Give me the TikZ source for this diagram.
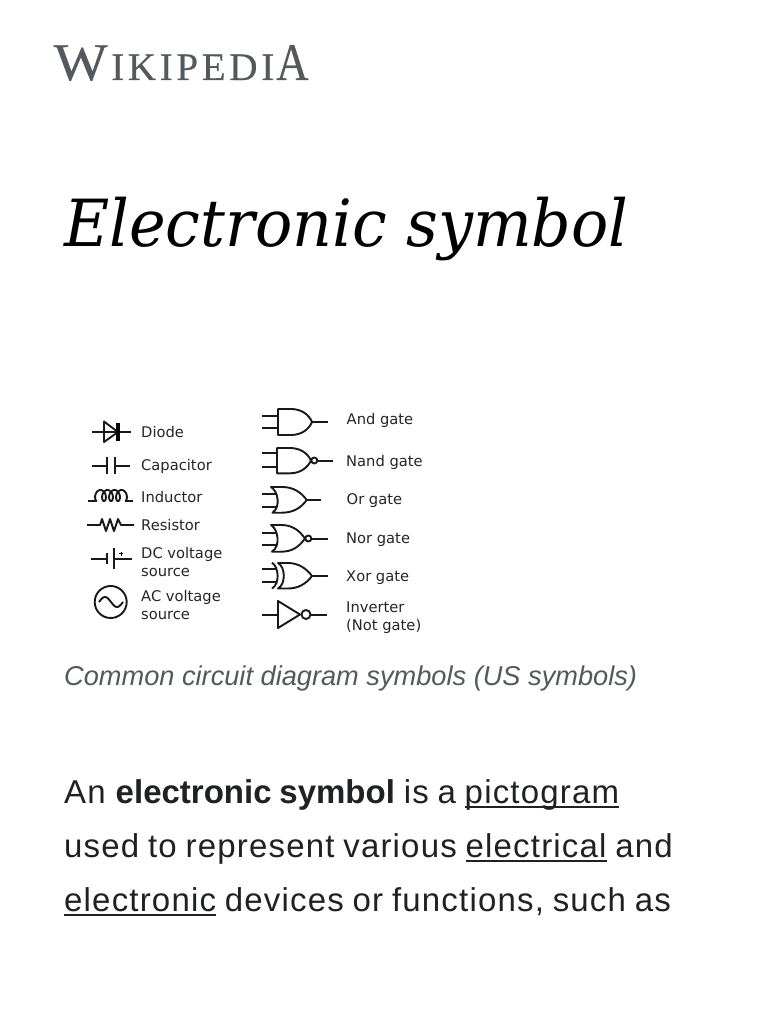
\documentclass[tikz,border=0pt]{standalone}
\usepackage{fontspec}
\setmainfont{Liberation Sans}
\newfontfamily\bodyfont[LetterSpace=3.6,WordSpace=0.85,BoldFeatures={LetterSpace=0,WordSpace=0.85}]{Liberation Sans}
\newfontfamily\labelfont{DejaVu Sans}
\newfontfamily\titlefont{DejaVu Serif}
\newfontfamily\logofont[FakeBold=0.4]{Liberation Serif}
\newfontfamily\logospaced[LetterSpace=9.5,FakeBold=0.4]{Liberation Serif}
\definecolor{logogray}{HTML}{54595D}
\definecolor{bodyink}{HTML}{202122}
\newcommand\linkword[1]{\setbox0\hbox{#1}\rlap{\vrule width\wd0 height -3.2pt depth 4.8pt}\box0 }
\tikzset{
    symline/.style={line width=1.9pt, line join=round, black!90},
    symlabel/.style={anchor=base west, inner sep=0pt, font=\labelfont\fontsize{14.7}{18}\selectfont, align=left, black!85},
    bodyline/.style={anchor=base west, inner sep=0pt, text=bodyink, font=\bodyfont\fontsize{33}{39}\selectfont}
}
\begin{document}
\begin{tikzpicture}[x=1pt,y=-1pt]
    \useasboundingbox (0,0) rectangle (768,1024);
    \fill[white] (0,0) rectangle (768,1024);
    % heading
    \node[anchor=base west,inner sep=0pt,xscale=1.08,text=logogray,font=\logofont\fontsize{53}{53}\selectfont] (logoW) at (53.5,80) {W};
    \node[anchor=base west,inner sep=0pt,text=logogray,font=\logospaced\fontsize{39}{39}\selectfont] (logoMid) at (111,80) {IKIPEDI};
    \node[anchor=base west,inner sep=0pt,xscale=0.85,text=logogray,font=\logofont\fontsize{53}{53}\selectfont] (logoA) at (276,80) {A};
    \node[anchor=base west,inner sep=0pt,xscale=0.953,font=\titlefont\itshape\fontsize{65}{65}\selectfont] (title) at (64,247) {Electronic symbol};
    % left column
    \draw[symline] (92,432)--(131,432);
    \draw[symline] (104,421.5)--(118,432)--(104,442)--cycle;
    \fill (116,422.5) rectangle (119.5,440.5);
    \draw[symline] (92,465.7)--(106.7,465.7) (106.7,457)--(106.7,474) (114.7,457)--(114.7,474) (114.7,465.7)--(130,465.7);
    \draw[symline] (88,501)--(97,501);
    \draw[symline,domain=0:1440,samples=120,smooth] plot ({97+\x/360*7-3.5*sin(\x)},{501-5.5*(1-cos(\x))});
    \draw[symline] (125,501)--(133,501);
    \draw[symline] (87,525)--(100,525)--(102,519)--(106,531)--(110,519)--(114,531)--(118,519)--(121,525)--(134,525);
    \draw[symline] (91,558.7)--(106.7,558.7) (106.7,553)--(106.7,564) (114,548)--(114,569) (114,558.7)--(131.7,558.7);
    \draw[line width=0.7pt] (119,553.5)--(123,553.5) (121,551.5)--(121,555.5);
    \draw[symline] (110.7,602) circle (16pt);
    \draw[symline,domain=0:360,samples=40,smooth] plot ({99+\x/360*24},{602-5*sin(\x)});
    \node[symlabel] (diode) at (141,437) {Diode};
    \node[symlabel] (capacitor) at (141,470) {Capacitor};
    \node[symlabel] (inductor) at (141,502) {Inductor};
    \node[symlabel] (resistor) at (141,530.5) {Resistor};
    \node[symlabel] (dcsource) at (141,576) {DC voltage\\source};
    \node[symlabel] (acsource) at (141,619) {AC voltage\\source};
    % right column
    \draw[symline] (262,416)--(278,416) (262,428)--(278,428) (312,422)--(328,422);
    \draw[symline] (278,409)--(291,409) .. controls (302,409) and (309,415) .. (312,422) .. controls (309,429) and (302,435) .. (291,435)--(278,435)--cycle;
    \draw[symline] (262,453.3)--(277,453.3) (262,466.7)--(277,466.7) (317.5,461)--(333,461);
    \draw[symline] (277,448)--(290,448) .. controls (301,448) and (308,454) .. (311,460.5) .. controls (308,467) and (301,473.3) .. (290,473.3)--(277,473.3)--cycle;
    \draw[symline] (314.3,460.5) circle (3pt);
    \draw[symline] (262,494)--(277,494) (262,506.7)--(277,506.7) (306.7,500)--(321,500);
    \draw[symline] (271,487) .. controls (278,491) and (281,507) .. (272.5,512.7) -- (282,512.7) .. controls (293,512.7) and (301,508) .. (306.7,500) .. controls (301,492) and (293,487) .. (282,487)--cycle;
    \draw[symline] (262,532.7)--(277,532.7) (262,545)--(277,545) (311.5,539)--(328,539);
    \draw[symline] (271,525) .. controls (278,529) and (281,546) .. (272,551.7) -- (281,551.7) .. controls (292,551.7) and (299,547) .. (305,538.5) .. controls (299,530) and (292,525) .. (281,525)--cycle;
    \draw[symline] (308.3,538.5) circle (3pt);
    \draw[symline] (262,569.3)--(277,569.3) (262,582)--(277,582) (312,576)--(328,576);
    \draw[symline] (272,562.7) .. controls (279,567) and (280,584) .. (272,588.5);
    \draw[symline] (278,563) .. controls (285.5,567) and (286,584) .. (278,588.5) -- (288,588.5) .. controls (298,588.5) and (306,584) .. (312,576) .. controls (306,568) and (298,563) .. (288,563)--cycle;
    \draw[symline] (262,615)--(278,615) (310.5,615)--(327,615);
    \draw[symline] (278,601)--(300,614.5)--(278,628)--cycle;
    \draw[symline] (306,614.5) circle (4.5pt);
    \node[symlabel] (andgate) at (346.5,424) {And gate};
    \node[symlabel] (nandgate) at (346,466) {Nand gate};
    \node[symlabel] (orgate) at (346.5,504.5) {Or gate};
    \node[symlabel] (norgate) at (346,543) {Nor gate};
    \node[symlabel] (xorgate) at (346,581) {Xor gate};
    \node[symlabel] (inverter) at (346,630) {Inverter\\(Not gate)};
    % caption and text
    \node[anchor=base west,inner sep=0pt,text=logogray,font=\itshape\fontsize{27.2}{32}\selectfont] (caption) at (64,685) {Common circuit diagram symbols (US symbols)};
    \node[bodyline] (lineone) at (64,803) {An \textbf{electronic symbol} is a \linkword{pictogram}};
    \node[bodyline] (linetwo) at (64,857) {used to represent various \linkword{electrical} and};
    \node[bodyline] (linethree) at (64,911) {\linkword{electronic} devices or functions, such as};
\end{tikzpicture}
\end{document}
